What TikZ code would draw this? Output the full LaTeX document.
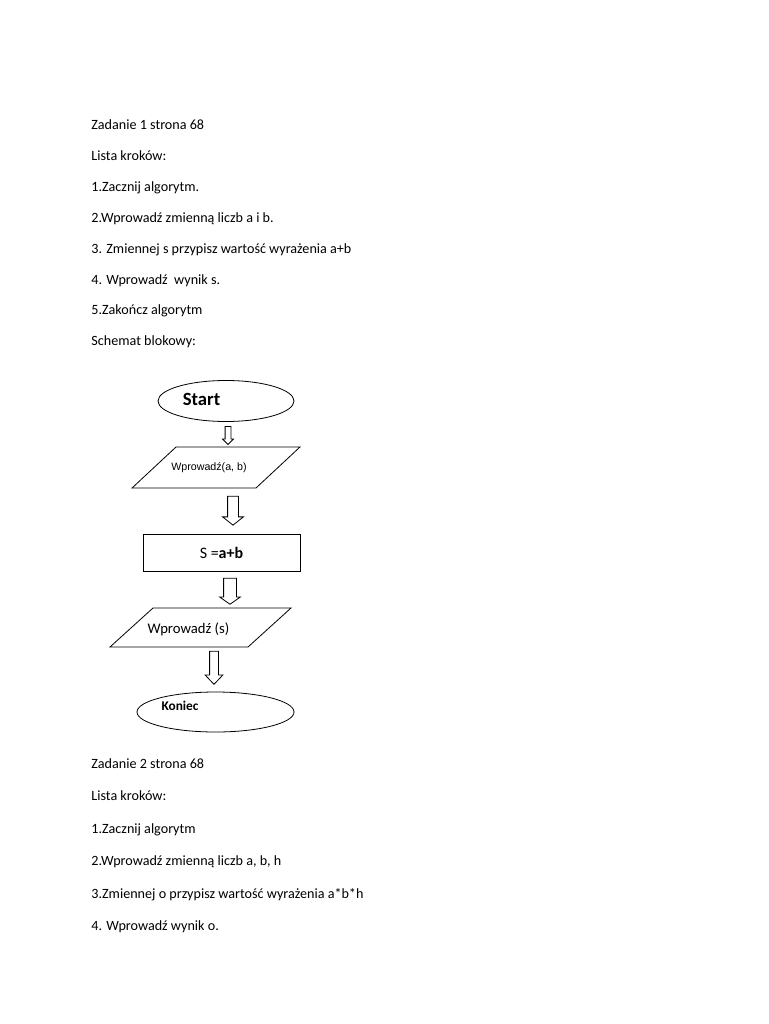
\documentclass[tikz,border=0pt]{standalone}
\usepackage{fontspec}
\setmainfont{Carlito}
\newfontfamily\arialfont{Liberation Sans}
\usetikzlibrary{shapes.geometric,shapes.arrows}
\begin{document}
\begin{tikzpicture}[x=0.75pt, y=-0.75pt, line width=0.6pt,
    every node/.style={font=\fontsize{10.6}{13}\selectfont},
    txt/.style={anchor=mid west, inner sep=0pt},
    term/.style={draw, ellipse, inner sep=0pt},
    io/.style={draw, trapezium, trapezium left angle=#1, trapezium right angle=180-#1},
    proc/.style={draw, rectangle, inner sep=0pt},
    fat/.style={draw, single arrow, rotate=-90, inner xsep=0pt, minimum width=0pt, single arrow head indent=0pt}]
    \useasboundingbox (0,0) rectangle (768,1024);
    % zadanie 1
    \node[txt] (z1) at (91,126) {Zadanie 1 strona 68};
    \node[txt] (l1) at (91,157) {Lista kroków:};
    \node[txt] (k11) at (91,188) {1.Zacznij algorytm.};
    \node[txt] (k12) at (91,219) {2.Wprowadź zmienną liczb a i b.};
    \node[txt] (k13) at (91,250) {3. Zmiennej s przypisz wartość wyrażenia a+b};
    \node[txt] (k14) at (91,281) {4. Wprowadź\ \ wynik s.};
    \node[txt] (k15) at (91,311) {5.Zakończ algorytm};
    \node[txt] (sb) at (91,342) {Schemat blokowy:};
    % schemat
    \node[term, minimum width=102pt, minimum height=30.75pt] (start) at (226,401) {};
    \node[font=\fontsize{14}{16}\selectfont\bfseries, inner sep=0pt] (starttxt) at (201.5,399) {Start};
    \node[io=43, inner xsep=30pt, inner ysep=15.375pt] (we1) at (216,467.5) {};
    \node[font=\arialfont\fontsize{8}{10}\selectfont, inner sep=0pt] (we1txt) at (209,468) {Wprowadź(a, b)};
    \node[proc, minimum width=117.75pt, minimum height=27.75pt] (suma) at (221.5,552.5)
        {\fontsize{12}{14}\selectfont S =\textbf{a+b}};
    \node[io=42.2, inner xsep=35.625pt, inner ysep=14.625pt] (we2) at (200.5,627.5) {};
    \node[font=\fontsize{11}{13}\selectfont, inner sep=0pt] (we2txt) at (188.5,629) {Wprowadź (s)};
    \node[term, minimum width=117.75pt, minimum height=30pt] (koniec) at (215.5,712) {};
    \node[font=\fontsize{10}{12}\selectfont\bfseries, inner sep=0pt] (koniectxt) at (180,706) {Koniec};
    % strzalki
    \node[fat, minimum height=13.5pt, inner ysep=1.875pt, single arrow head extend=1.875pt, single arrow tip angle=90] (s1) at (228,434) {};
    \node[fat, minimum height=21.75pt, inner ysep=3.75pt, single arrow head extend=3.75pt, single arrow tip angle=103] (s2) at (233,508.5) {};
    \node[fat, minimum height=19.5pt, inner ysep=4.5pt, single arrow head extend=3pt, single arrow tip angle=110] (s3) at (230,589) {};
    \node[fat, minimum height=24.75pt, inner ysep=3pt, single arrow head extend=3.375pt, single arrow tip angle=87] (s4) at (214,665.5) {};
    % zadanie 2
    \node[txt] (z2) at (91,765) {Zadanie 2 strona 68};
    \node[txt] (l2) at (91,797) {Lista kroków:};
    \node[txt] (k21) at (91,830) {1.Zacznij algorytm};
    \node[txt] (k22) at (91,862) {2.Wprowadź zmienną liczb a, b, h};
    \node[txt] (k23) at (91,895) {3.Zmiennej o przypisz wartość wyrażenia a*b*h};
    \node[txt] (k24) at (91,927) {4. Wprowadź wynik o.};
\end{tikzpicture}
\end{document}
